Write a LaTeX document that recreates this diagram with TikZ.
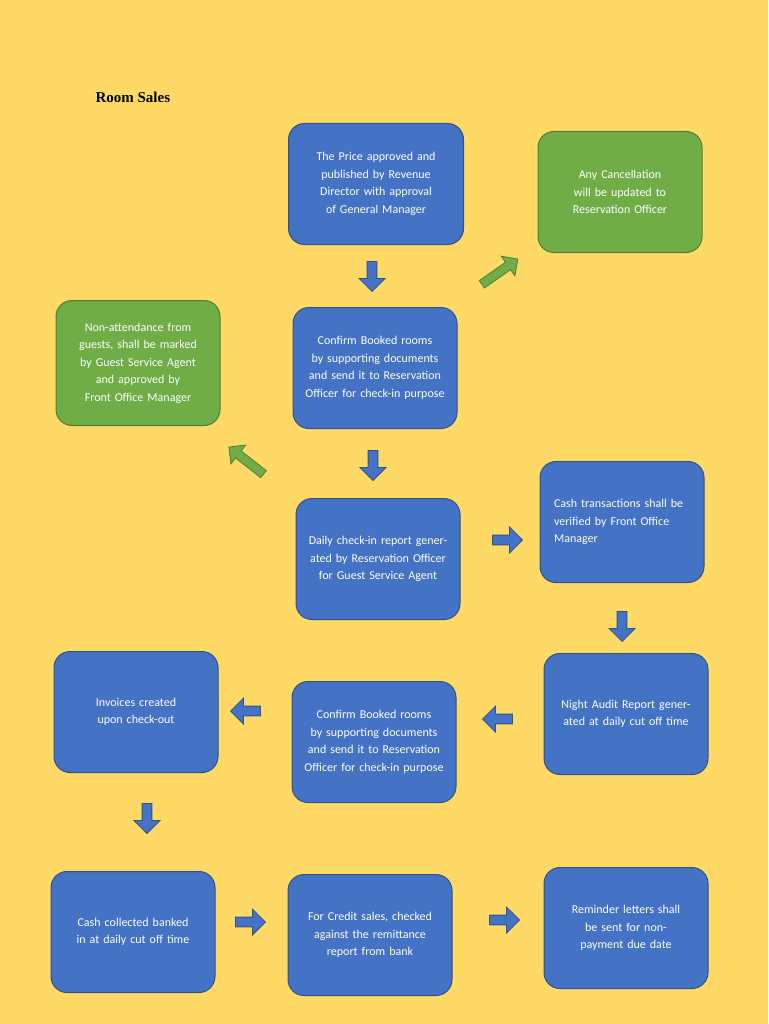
\documentclass[tikz,border=0pt]{standalone}
\usepackage{fontspec}
\setmainfont{Carlito}
\newfontfamily\titlefont{Liberation Serif}
\usetikzlibrary{shapes.arrows}
\definecolor{bg}{HTML}{FFD966}
\definecolor{bluefill}{HTML}{4472C4}
\definecolor{blueline}{HTML}{2F528F}
\definecolor{greenfill}{HTML}{70AD47}
\definecolor{greenline}{HTML}{507E32}
\tikzset{
  x=1pt,y=-1pt,
  box/.style={draw=blueline,fill=bluefill,line width=1pt,rounded corners=16pt,
    minimum width=164pt,minimum height=121pt,text width=140pt,align=center,
    text=white,font=\fontsize{12}{17.5}\selectfont},
  gbox/.style={box,draw=greenline,fill=greenfill},
  barrow/.style={single arrow,draw=blueline,fill=bluefill,line width=0.8pt,
    minimum height=30pt,minimum width=26pt,single arrow head extend=4pt,inner sep=2pt},
  garrow/.style={barrow,draw=greenline,fill=greenfill}
}
\begin{document}
\begin{tikzpicture}
\fill[bg] (0,0) rectangle (768,1024);
\useasboundingbox (0,0) rectangle (768,1024);
\node[font=\titlefont\bfseries\fontsize{15}{18}\selectfont,anchor=west] (title) at (92,97) {Room Sales};
\node[box,minimum width=175pt] (b1) at (376,184) {The Price approved and published by Revenue Director with approval of General Manager};
\node[gbox] (b2) at (620,192) {Any Cancellation will be updated to Reservation Officer};
\node[gbox,minimum height=125pt] (b3) at (138,363) {Non-attendance from guests, shall be marked by Guest Service Agent and approved by Front Office Manager};
\node[box] (b4) at (375,368) {Confirm Booked rooms by supporting documents and send it to Reservation Officer for check-in purpose};
\node[box] (b5) at (378,559) {Daily check-in report generated by Reservation Officer for Guest Service Agent};
\node[box,align=left,text width=136pt] (b6) at (622,522) {Cash transactions shall be verified by Front Office Manager};
\node[box] (b7) at (626,714) {Night Audit Report generated at daily cut off time};
\node[box] (b8) at (374,742) {Confirm Booked rooms by supporting documents and send it to Reservation Officer for check-in purpose};
\node[box] (b9) at (136,712) {Invoices created upon check-out};
\node[box] (b10) at (133,932) {Cash collected banked in at daily cut off time};
\node[box] (b11) at (370,935) {For Credit sales, checked against the remittance report from bank};
\node[box] (b12) at (626,928) {Reminder letters shall be sent for non-payment due date};
\node[barrow,rotate=-90] (a1) at (372,274) {};
\node[barrow,rotate=-90] (a2) at (373,463) {};
\node[barrow,rotate=-90] (a3) at (622,624) {};
\node[barrow,rotate=-90] (a4) at (147,816) {};
\node[barrow] (a5) at (505,540) {};
\node[barrow] (a6) at (248,922) {};
\node[barrow] (a7) at (502,920) {};
\node[barrow,rotate=180] (a8) at (248,711) {};
\node[barrow,rotate=180] (a9) at (500,719) {};
\node[garrow,rotate=35,minimum height=44pt,minimum width=24pt] (a10) at (498,273) {};
\node[garrow,rotate=142,minimum height=44pt,minimum width=24pt] (a11) at (248,462) {};
\end{tikzpicture}
\end{document}
